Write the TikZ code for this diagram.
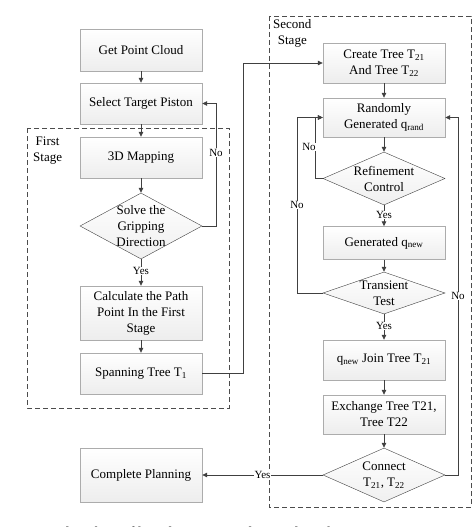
\documentclass[tikz,border=0pt]{standalone}
\usepackage{fontspec}
\setmainfont{Liberation Serif}
\usetikzlibrary{shapes.geometric,arrows.meta}
\begin{document}
\begin{tikzpicture}[x=1pt,y=1pt,
  txt/.style={font=\fontsize{13}{16}\selectfont, align=center, inner sep=0pt},
  box/.style={txt, draw=gray!65, top color=white, bottom color=gray!14, minimum width=122pt, inner sep=1pt},
  dia/.style={diamond, draw=black!75, top color=white, bottom color=gray!12, inner sep=0pt, minimum width=122pt},
  lbl/.style={font=\fontsize{11}{12}\selectfont, fill=white, inner sep=0.5pt},
  stagebox/.style={draw=black!70, dash pattern=on 5pt off 3pt, line width=0.8pt},
  arr/.style={draw=black!75, line width=0.8pt, -{Triangle[length=5pt,width=4.5pt]}},
  ln/.style={draw=black!75, line width=0.8pt}
]
\useasboundingbox (0,0) rectangle (474,-527);

% stage frames
\draw[stagebox] (27,-128) rectangle (229,-408);
\draw[stagebox] (269,-16) rectangle (471,-507);
\node[txt, anchor=north west] (fs) at (33,-137) {First\\Stage};
\node[txt, anchor=north west] (ss) at (273,-19) {Second\\Stage};

% left column
\node[box, minimum height=42pt] (gpc) at (141,-50) {Get Point Cloud};
\node[box, minimum height=41pt] (stp) at (141,-103.5) {Select Target Piston};
\node[box, minimum height=41pt] (map) at (141,-157.5) {3D Mapping};
\node[dia, minimum height=66pt] (d1) at (141,-226) {};
\node[txt] (d1t) at (d1) {Solve the\\Gripping\\Direction};
\node[box, minimum height=54pt] (calc) at (141,-313) {Calculate the Path\\Point In the First\\Stage};
\node[box, minimum height=41pt] (span) at (141,-373.5) {Spanning Tree T\textsubscript{1}};
\node[box, minimum height=54pt] (cp) at (141,-475) {Complete Planning};

% right column
\node[box, minimum height=40pt] (cre) at (384,-63) {Create Tree T\textsubscript{21}\\And Tree T\textsubscript{22}};
\node[box, minimum height=39pt] (rand) at (384,-117.5) {Randomly\\Generated q\textsubscript{rand}};
\node[dia, minimum height=53pt] (d2) at (384,-178.5) {};
\node[txt] (d2t) at (d2) {Refinement\\Control};
\node[box, minimum height=33pt] (gen) at (384,-243) {Generated q\textsubscript{new}};
\node[dia, minimum height=42pt] (d3) at (384,-293) {};
\node[txt] (d3t) at (d3) {Transient\\Test};
\node[box, minimum height=40pt] (join) at (384,-360) {q\textsubscript{new} Join Tree T\textsubscript{21}};
\node[box, minimum height=39pt] (exch) at (384,-414.5) {Exchange Tree T21,\\Tree T22};
\node[dia, minimum height=54pt] (d4) at (384,-475) {};
\node[txt] (d4t) at (d4) {Connect\\T\textsubscript{21}, T\textsubscript{22}};

% caption (cut off at the bottom edge)
\node[anchor=base west, font=\fontsize{15}{16}\selectfont, inner sep=0pt] (cap) at (-1,-537)
  {Fig. 2\hspace{22pt}Flowchart of based on improved RRT algorithm};

% connectors left
\draw[arr] (gpc) -- (stp);
\draw[arr] (stp) -- (map);
\draw[arr] (map) -- (d1);
\draw[arr] (d1.south) -- node[lbl, pos=0.45] (y1) {Yes} (calc.north);
\coordinate (c1) at (216,-226);
\draw[arr] (d1.east) -- (c1) |- node[lbl, pos=0.3] (n1) {No} (stp.east);
\draw[arr] (calc) -- (span);
\coordinate (c2) at (243.5,-373.5);
\draw[arr] (span.east) -- (c2) |- (cre.west);

% connectors right
\draw[arr] (cre) -- (rand);
\draw[arr] (rand) -- (d2);
\draw[arr] (d2.south) -- node[lbl, pos=0.45] (y2) {Yes} (gen.north);
\coordinate (c3) at (315,-178.5);
\draw[arr] (d2.west) -- (c3) |- (rand.west);
\node[lbl] (n2) at (309,-147) {No};
\draw[arr] (gen) -- (d3);
\coordinate (c4) at (297,-293);
\draw[arr] (d3.west) -- (c4) |- (rand.west);
\node[lbl] (n3) at (297,-205) {No};
\draw[arr] (d3.south) -- node[lbl, pos=0.45] (y3) {Yes} (join.north);
\draw[arr] (join) -- (exch);
\draw[arr] (exch) -- (d4);
\coordinate (c5) at (458,-475);
\draw[arr] (d4.east) -- (c5) |- (rand.east);
\node[lbl] (n4) at (458,-296) {No};
\draw[arr] (d4.west) -- node[lbl, pos=0.5] (y4) {Yes} (cp.east);
\end{tikzpicture}
\end{document}
